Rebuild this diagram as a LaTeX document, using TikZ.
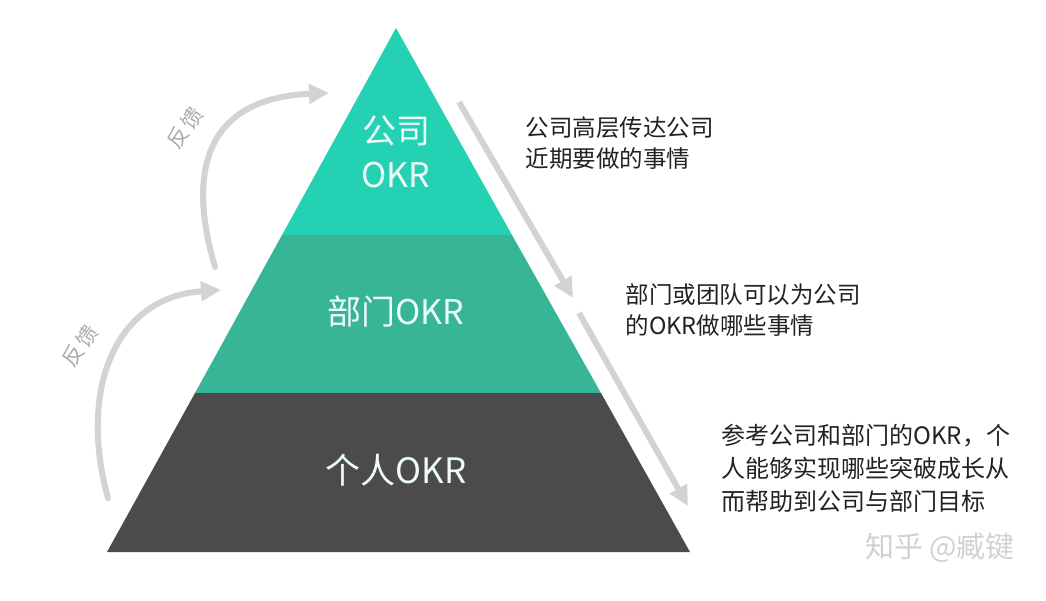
\documentclass[tikz,border=0pt]{standalone}
\usepackage{fontspec}
\setmainfont{Noto Sans CJK SC}
\usepackage{tikz}
\usetikzlibrary{arrows.meta}

\definecolor{topgreen}{HTML}{24D1B2}
\definecolor{midgreen}{HTML}{38B597}
\definecolor{lowgray}{HTML}{4B4B4B}
\definecolor{arrowgray}{HTML}{D3D3D3}
\definecolor{labelgray}{HTML}{AAAAAA}
\definecolor{textdark}{HTML}{222222}

\begin{document}
\begin{tikzpicture}[x=1pt, y=-1pt,
    level/.style={text=white!92!topgreen, font=\fontsize{34}{40}\selectfont, align=center},
    note/.style={text=textdark, font=\fontsize{23.5}{31}\selectfont, align=left, anchor=north west},
    flow/.style={draw=arrowgray, line width=6pt, -{Triangle[length=20pt, width=19pt]}},
    fb/.style={text=labelgray, font=\fontsize{21}{21}\selectfont, rotate=55}
]

\useasboundingbox (0,0) rectangle (1046,600);

% pyramid bands
\fill[topgreen] (396,28) -- (282,235) -- (512,235) -- cycle;
\fill[midgreen] (282,235) -- (195,393) -- (601,393) -- (512,235) -- cycle;
\fill[lowgray] (195,393) -- (107,552) -- (690,552) -- (601,393) -- cycle;

\node[level] (company) at (396,152) {公司\\[4pt]OKR};
\node[level] (dept) at (396,312) {部门OKR};
\node[level, font=\fontsize{35}{40}\selectfont] (person) at (396,470) {个人OKR};

% descriptions
\node[note] (companynote) at (522,113) {公司高层传达公司\\近期要做的事情};
\node[note] (deptnote) at (622,280) {部门或团队可以为公司\\的OKR做哪些事情};
\node[note, font=\fontsize{24}{33}\selectfont] (personnote) at (718,421)
    {参考公司和部门的OKR，个\\人能够实现哪些突破成长从\\而帮助到公司与部门目标};

% top-down arrows
\coordinate (d1s) at (459,102);
\coordinate (d1e) at (573,298);
\coordinate (d2s) at (579,313);
\coordinate (d2e) at (688,506);
\draw[flow] (d1s) -- (d1e);
\draw[flow] (d2s) -- (d2e);

% feedback arrows
\coordinate (f1s) at (215,267);
\coordinate (f1e) at (329,93);
\coordinate (f2s) at (108,498);
\coordinate (f2e) at (221,290);
\draw[flow, line cap=round] (f1s) .. controls (185,165) and (210,98) .. (f1e);
\draw[flow, line cap=round] (f2s) .. controls (78,390) and (115,297) .. (f2e);

\node[fb] (fbtop) at (185,128) {反\hspace{3pt}馈};
\node[fb] (fblow) at (80,346) {反\hspace{3pt}馈};

% watermark
\node[text=black!18, font=\fontsize{29}{29}\selectfont] (mark) at (940,548) {知乎 @臧键};

\end{tikzpicture}
\end{document}
